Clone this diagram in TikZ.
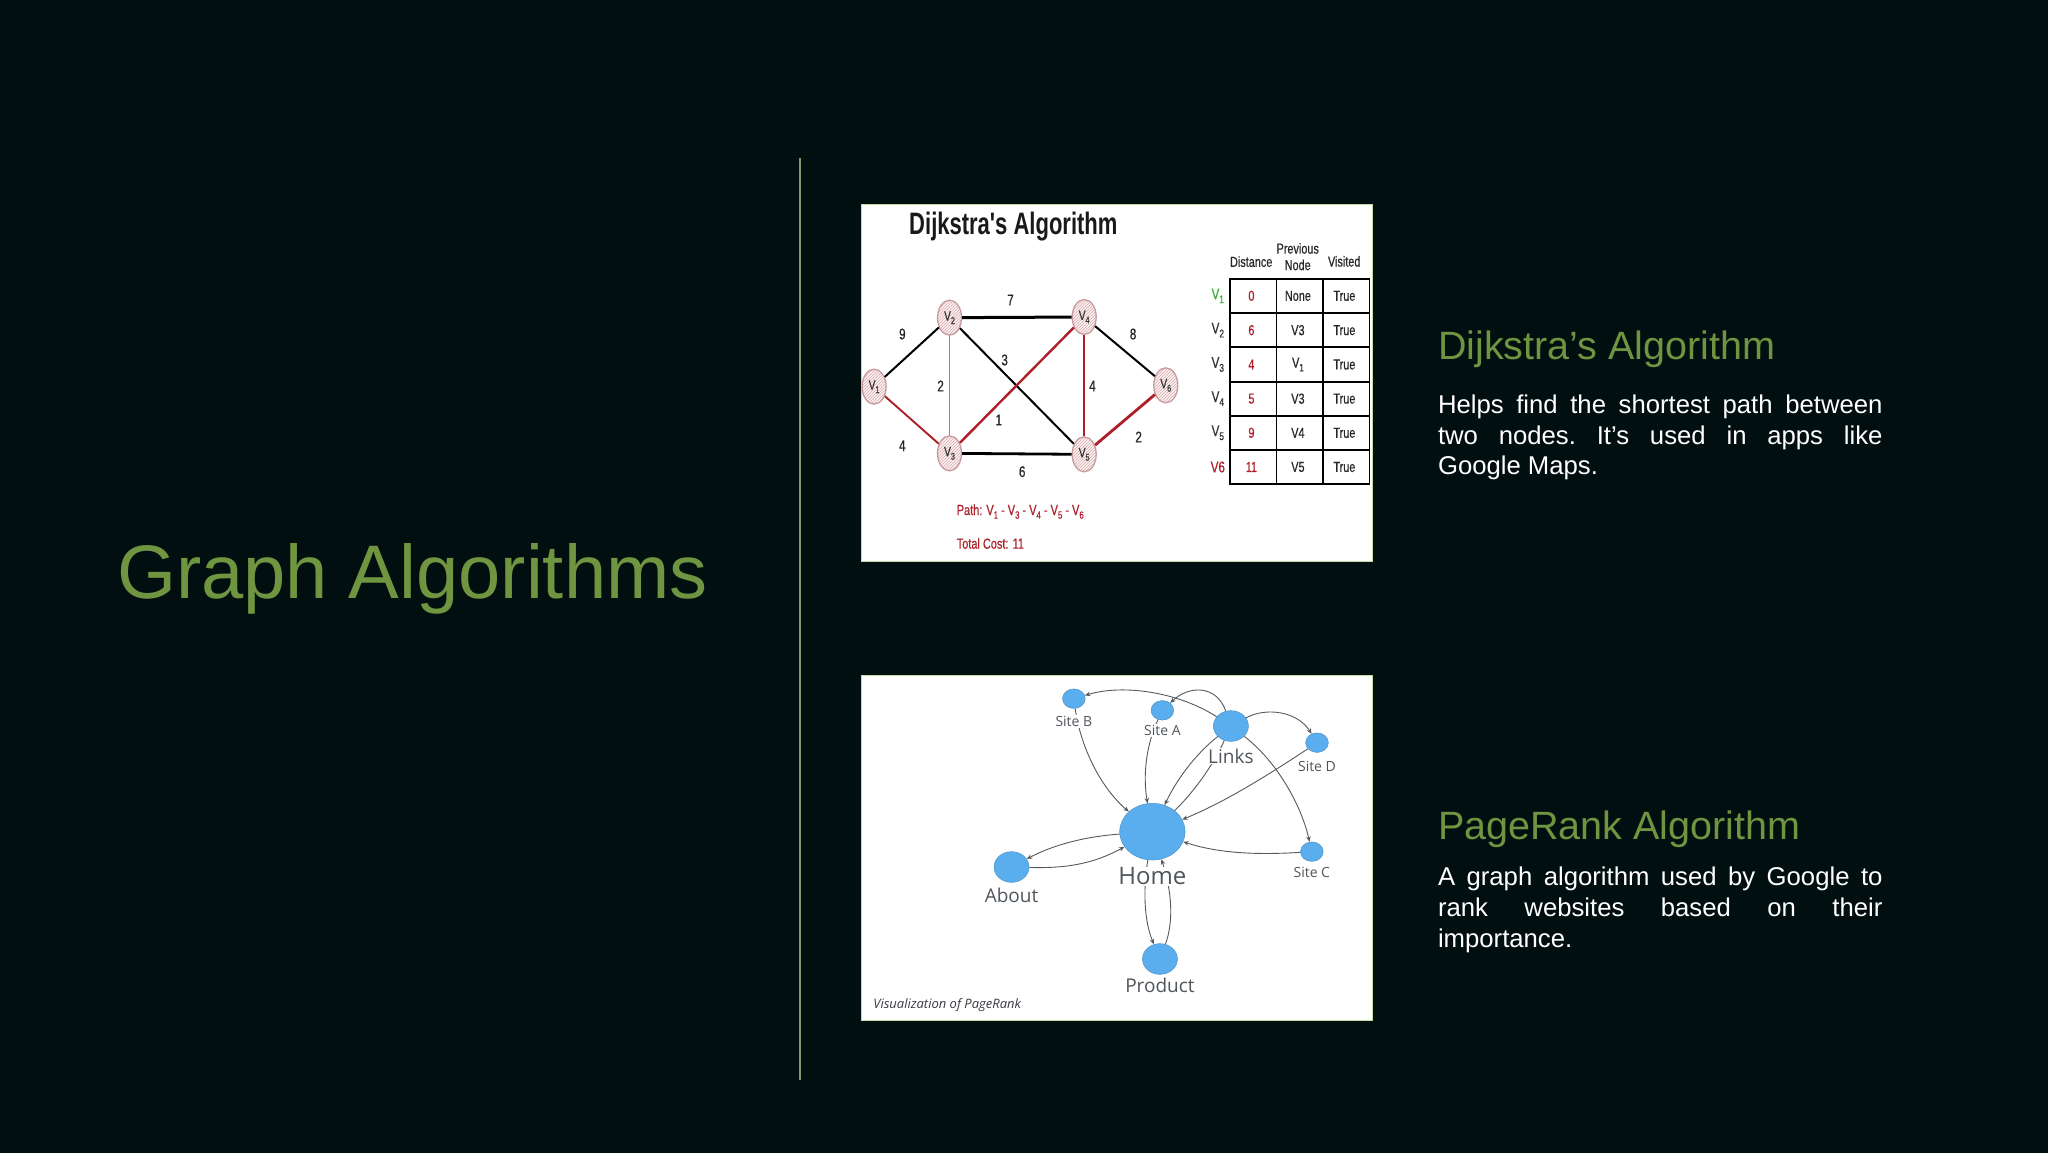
\documentclass[tikz,border=0pt]{standalone}
\usepackage{fontspec}
\usepackage{graphicx}
\usetikzlibrary{arrows.meta,patterns,shapes.geometric}
\setmainfont{Liberation Sans}
\newfontfamily\narrowf[FakeStretch=0.75,FakeBold=0.5]{Liberation Sans}
\newfontfamily\narrowt[FakeStretch=0.71]{Liberation Sans}
\newfontfamily\opensf{Open Sans}
\definecolor{bgc}{HTML}{020F10}
\definecolor{greenc}{HTML}{6F9540}
\definecolor{rulec}{HTML}{7F9C6E}
\definecolor{framec}{HTML}{C4DBA4}
\definecolor{redc}{HTML}{AE1F2A}
\definecolor{pinkc}{HTML}{B57A7E}
\definecolor{vgreen}{HTML}{35B034}
\definecolor{bluec}{HTML}{5BAEEE}
\definecolor{edgec}{HTML}{555A5E}
\definecolor{labc}{HTML}{50565C}
\newcommand{\vsub}[1]{V\raisebox{-0.25em}{\scalebox{0.72}{#1}}}
\newcommand{\nsize}[1]{\narrowf\fontsize{#1}{#1}\selectfont}
\tikzset{
  plain/.style={inner sep=0pt,outer sep=0pt},
  mainhead/.style={plain,anchor=base west,text=greenc,font=\fontsize{75.9}{80}\selectfont},
  subhead/.style={plain,anchor=base west,text=greenc,font=\fontsize{39.5}{44}\selectfont},
  bodytext/.style={plain,anchor=base west,text=white,text width=444.5pt,align=justify,font=\frenchspacing\fontsize{25.7}{30.8}\selectfont},
  photo/.style={fill=white,draw=framec,line width=0.8pt},
  zoomA/.style={shift={(850,190)},x=0.34439pt,y=-0.33333pt},
  zoomB/.style={shift={(850,665)},x=0.34439pt,y=-0.33333pt},
  vnode/.style={ellipse,minimum width=24pt,minimum height=35pt,inner sep=0pt,draw=pinkc!75,line width=1.3pt,
    preaction={fill=red!6!white},pattern=north east lines,pattern color=pinkc!60,
    font=\nsize{13.5},text=black!80},
  bk/.style={draw=black,line width=#1},
  rd/.style={draw=redc,line width=#1},
  wlabel/.style={plain,font=\nsize{15.5},text=black!85},
  cell/.style={draw=black,line width=1.7pt,minimum width=46.5pt,minimum height=34.3pt,inner sep=0pt,font=\nsize{14.5},text=black!85},
  colhead/.style={plain,align=center,font=\nsize{14.5},text=black!85},
  blob/.style={ellipse,fill=bluec,draw=bluec!85!black,line width=0.5pt,inner sep=0pt},
  big/.style={blob,minimum width=65.4pt,minimum height=56.7pt},
  mid/.style={blob,minimum width=35pt,minimum height=30.7pt},
  small/.style={blob,minimum width=22.7pt,minimum height=19.5pt},
  lnk/.style={draw=edgec,line width=0.9pt,-{Stealth[length=5.5pt,width=4.5pt]}},
  lnkplain/.style={draw=edgec,line width=0.9pt},
  sitelab/.style={fill=white,inner sep=1pt,outer sep=0pt,text=labc,font=\opensf\fontsize{14}{16}\selectfont},
  midlab/.style={fill=white,inner sep=1pt,outer sep=0pt,text=labc,font=\opensf\fontsize{19}{21}\selectfont},
}
\begin{document}
\begin{tikzpicture}[x=1pt,y=-1pt]
\useasboundingbox (0,0) rectangle (2048,1152);
\fill[bgc] (-5,-5) rectangle (2053,1157);
\node[mainhead] (title) at (117,598) {Graph Algorithms};
\coordinate (ruletop) at (800,158);
\coordinate (rulebot) at (800,1080);
\draw[rulec,line width=1.5pt] (ruletop) -- (rulebot);
\node[photo,minimum width=511pt,minimum height=356.5pt,inner sep=0pt,anchor=north west] (img1) at (861,204) {};
\node[photo,minimum width=511pt,minimum height=344.5pt,inner sep=0pt,anchor=north west] (img2) at (861,675) {};
\node[subhead] (h1) at (1438,359.3) {Dijkstra’s Algorithm};
\node[bodytext] (b1) at (1438,413.3) {Helps find the shortest path between\linebreak two nodes. It’s used in apps like\linebreak Google Maps.};
\node[subhead] (h2) at (1438,839.3) {PageRank Algorithm};
\node[bodytext] (b2) at (1438,885.7) {A graph algorithm used by Google to\linebreak rank websites based on their\linebreak importance.};
\begin{scope}[zoomA]
  \node[plain,anchor=base west,font=\narrowt\bfseries\fontsize{31}{33}\selectfont,text=black!90] (dtitle) at (172,133) {Dijkstra's Algorithm};
  \node[vnode] (v1) at (70,590) {\vsub{1}};
  \node[vnode] (v2) at (289,383) {\vsub{2}};
  \node[vnode] (v3) at (289,790) {\vsub{3}};
  \node[vnode] (v4) at (680,381) {\vsub{4}};
  \node[vnode] (v5) at (680,793) {\vsub{5}};
  \node[vnode] (v6) at (917,586) {\vsub{6}};
  \draw[bk=2pt] (v1) -- (v2);
  \draw[rd=1.9pt] (v1) -- (v3);
  \draw[draw=pinkc,line width=1.4pt] (v2) -- (v3);
  \draw[bk=3pt] (v2) -- (v4);
  \draw[bk=2pt] (v2) -- (v5);
  \draw[rd=2.4pt] (v3) -- (v4);
  \draw[bk=2.8pt] (v3) -- (v5);
  \draw[rd=1.7pt] (v4) -- (v5);
  \draw[bk=2pt] (v4) -- (v6);
  \draw[rd=2.8pt] (v5) -- (v6);
  \node[wlabel] (e12) at (152,432) {9};
  \node[wlabel] (e13) at (152,767) {4};
  \node[wlabel] (e23) at (263,588) {2};
  \node[wlabel] (e24) at (466,330) {7};
  \node[wlabel] (e25) at (449,510) {3};
  \node[wlabel] (e34) at (432,690) {1};
  \node[wlabel] (e35) at (500,845) {6};
  \node[wlabel] (e45) at (704,588) {4};
  \node[wlabel] (e46) at (822,432) {8};
  \node[wlabel] (e56) at (838,741) {2};
  \node[colhead] (hd1) at (1165,215) {Distance};
  \node[colhead] (hd2) at (1300,200) {Previous\\[2pt]Node};
  \node[colhead] (hd3) at (1435,214) {Visited};
  \foreach \yy/\nm/\lab/\lc/\da/\pr in {
    317.5/1/\vsub{1}/vgreen/0/None,
    420.5/2/\vsub{2}/black!80/6/V3,
    523.5/3/\vsub{3}/black!80/4/\vsub{1},
    626/4/\vsub{4}/black!80/5/V3,
    728.5/5/\vsub{5}/black!80/9/V4,
    831/6/V6/redc/11/V5}{
    \node[plain,text=\lc,font=\nsize{15.5}] (row\nm) at (1068,\yy) {\lab};
    \node[cell,text=redc] (da\nm) at (1170.5,\yy) {\da\kern3.4pt};
    \node[cell] (pr\nm) at (1305.5,\yy) {\pr\kern3.4pt};
    \node[cell] (vi\nm) at (1440.5,\yy) {True\kern3.4pt};
  }
  \node[plain,anchor=base west,text=redc,font=\nsize{14.6}] (path) at (310,975) {Path: \vsub{1} - \vsub{3} - \vsub{4} - \vsub{5} - \vsub{6}};
  \node[plain,anchor=base west,text=redc,font=\nsize{14.6}] (cost) at (310,1076) {Total Cost: 11};
\end{scope}
\begin{scope}[zoomB]
  \node[big] (home) at (878,500) {};
  \node[mid] (links) at (1106,183) {};
  \node[mid] (about) at (469,606) {};
  \node[mid] (product) at (900,882) {};
  \node[small] (siteb) at (650,101) {};
  \node[small] (sitea) at (907,136) {};
  \node[small] (sited) at (1356,233) {};
  \node[small] (sitec) at (1341,560) {};
  \draw[lnk] (links) .. controls (960,85) and (800,55) .. (siteb);
  \draw[lnk] (links) .. controls (1065,60) and (985,60) .. (sitea);
  \draw[lnk] (links) .. controls (1210,125) and (1300,140) .. (sited);
  \draw[lnk] (links) .. controls (1240,290) and (1310,420) .. (sitec);
  \draw[lnk] (links) .. controls (1000,270) and (945,350) .. (home);
  \draw[lnkplain] (home) .. controls (990,390) and (1050,310) .. (links);
  \draw[lnk] (siteb) .. controls (670,250) and (730,370) .. (home);
  \draw[lnk] (sitea) .. controls (860,240) and (850,330) .. (home);
  \draw[lnk] (sited) .. controls (1200,340) and (1080,415) .. (home);
  \draw[lnk] (sitec) .. controls (1180,570) and (1070,565) .. (home);
  \draw[lnk] (home) .. controls (680,515) and (590,540) .. (about);
  \draw[lnk] (about) .. controls (620,610) and (700,600) .. (home);
  \draw[lnk] (home) .. controls (850,680) and (855,770) .. (product);
  \draw[lnk] (product) .. controls (940,770) and (935,680) .. (home);
  \node[sitelab] (lb) at (650,169) {Site B};
  \node[sitelab] (la) at (907,197) {Site A};
  \node[sitelab] (ld) at (1356,303) {Site D};
  \node[sitelab] (lc) at (1341,621) {Site C};
  \node[midlab] (ll) at (1106,273) {Links};
  \node[midlab] (lab) at (469,690) {About};
  \node[midlab] (lp) at (900,962) {Product};
  \node[fill=white,inner sep=1pt,text=labc,font=\opensf\fontsize{24}{26}\selectfont] (lh) at (878,634) {Home};
  \node[plain,anchor=base west,text=labc!70!black,font=\opensf\itshape\fontsize{13}{14}\selectfont] (cap) at (68,1031) {Visualization of PageRank};
\end{scope}
\end{tikzpicture}
\end{document}
